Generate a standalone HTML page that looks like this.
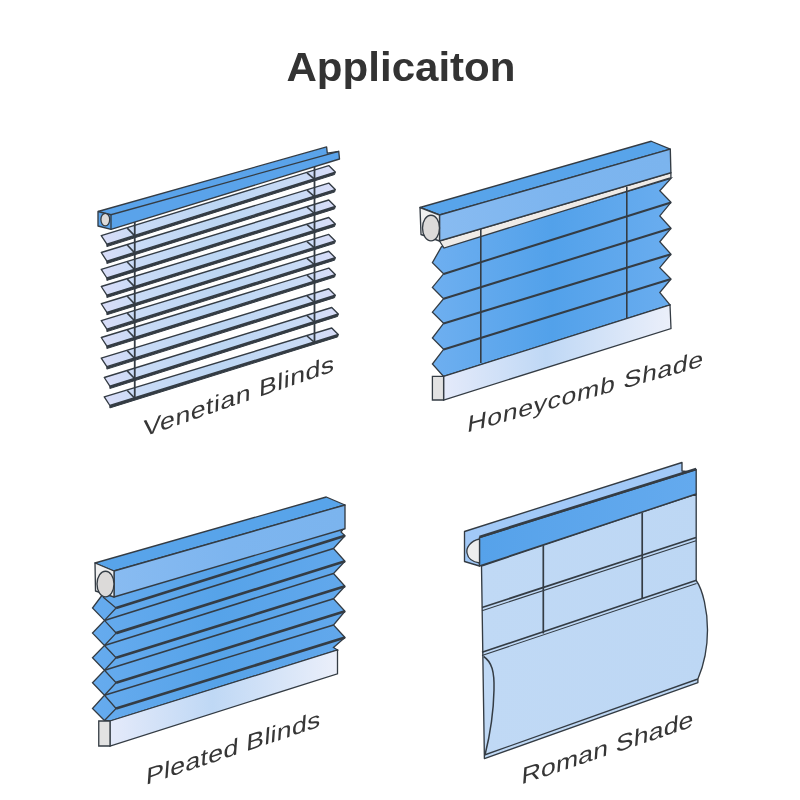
<!DOCTYPE html>
<html><head><meta charset="utf-8"><title>Applicaiton</title>
<style>html,body{margin:0;padding:0;background:#fff;}svg{display:block;}</style>
</head><body>
<svg width="800" height="800" viewBox="0 0 800 800">

<defs>
<filter id="gs" filterUnits="userSpaceOnUse" x="0" y="0" width="800" height="800"><feOffset dx="0" dy="0"/></filter>
<linearGradient id="slatg" x1="0" y1="0" x2="1" y2="0">
  <stop offset="0" stop-color="#d9ddf8"/><stop offset="0.15" stop-color="#c9dbf6"/>
  <stop offset="0.5" stop-color="#bcd6f3"/><stop offset="0.85" stop-color="#c9dbf6"/><stop offset="1" stop-color="#d9ddf8"/>
</linearGradient>
<linearGradient id="honeyg" x1="0" y1="0" x2="1" y2="0">
  <stop offset="0" stop-color="#6eaff0"/><stop offset="0.5" stop-color="#52a1ea"/><stop offset="1" stop-color="#6aadef"/>
</linearGradient>
<linearGradient id="pleatg" x1="0" y1="0" x2="1" y2="0">
  <stop offset="0" stop-color="#66abee"/><stop offset="0.5" stop-color="#56a3e9"/><stop offset="1" stop-color="#62a8ec"/>
</linearGradient>
<linearGradient id="hrfront" x1="0" y1="0" x2="1" y2="0">
  <stop offset="0" stop-color="#88bbf1"/><stop offset="0.5" stop-color="#7db5ef"/><stop offset="1" stop-color="#7bb4ee"/>
</linearGradient>
<linearGradient id="railg" x1="0" y1="0" x2="1" y2="0">
  <stop offset="0" stop-color="#e4eafa"/><stop offset="0.45" stop-color="#bfd8f5"/><stop offset="1" stop-color="#ebeffa"/>
</linearGradient>
<linearGradient id="romang" x1="0" y1="0" x2="1" y2="0">
  <stop offset="0" stop-color="#c0d9f5"/><stop offset="1" stop-color="#bdd7f4"/>
</linearGradient>
<linearGradient id="romanbar" x1="0" y1="0" x2="1" y2="0">
  <stop offset="0" stop-color="#56a2ea"/><stop offset="1" stop-color="#64aaee"/>
</linearGradient>
</defs>
<rect width="800" height="800" fill="#fff"/>
<g filter="url(#gs)">
<text x="286.5" y="81" font-family="Liberation Sans, sans-serif" font-weight="bold" font-size="40" fill="#333" textLength="229" lengthAdjust="spacingAndGlyphs">Applicaiton</text>
<g><polygon points="106.85,244.20 335.25,172.10 334.65,174.50 106.85,246.60" fill="#343c44" stroke="#343c44" stroke-width="1" stroke-linejoin="round"/>
<polygon points="101.25,235.60 328.75,165.60 335.25,172.10 106.85,244.20" fill="url(#slatg)" stroke="#343c44" stroke-width="1.35" stroke-linejoin="round"/>
<polygon points="106.85,261.10 335.25,189.60 334.65,192.00 106.85,263.50" fill="#343c44" stroke="#343c44" stroke-width="1" stroke-linejoin="round"/>
<polygon points="101.25,252.50 328.75,183.10 335.25,189.60 106.85,261.10" fill="url(#slatg)" stroke="#343c44" stroke-width="1.35" stroke-linejoin="round"/>
<polygon points="106.85,278.00 335.25,206.50 334.65,208.90 106.85,280.40" fill="#343c44" stroke="#343c44" stroke-width="1" stroke-linejoin="round"/>
<polygon points="101.25,269.40 328.75,200.00 335.25,206.50 106.85,278.00" fill="url(#slatg)" stroke="#343c44" stroke-width="1.35" stroke-linejoin="round"/>
<polygon points="106.85,295.10 335.25,224.00 334.65,226.40 106.85,297.50" fill="#343c44" stroke="#343c44" stroke-width="1" stroke-linejoin="round"/>
<polygon points="101.25,286.50 328.75,217.50 335.25,224.00 106.85,295.10" fill="url(#slatg)" stroke="#343c44" stroke-width="1.35" stroke-linejoin="round"/>
<polygon points="106.85,312.35 335.25,240.90 334.65,243.30 106.85,314.75" fill="#343c44" stroke="#343c44" stroke-width="1" stroke-linejoin="round"/>
<polygon points="101.25,303.75 328.75,234.40 335.25,240.90 106.85,312.35" fill="url(#slatg)" stroke="#343c44" stroke-width="1.35" stroke-linejoin="round"/>
<polygon points="106.85,329.20 335.25,257.75 334.65,260.15 106.85,331.60" fill="#343c44" stroke="#343c44" stroke-width="1" stroke-linejoin="round"/>
<polygon points="101.25,320.60 328.75,251.25 335.25,257.75 106.85,329.20" fill="url(#slatg)" stroke="#343c44" stroke-width="1.35" stroke-linejoin="round"/>
<polygon points="106.85,346.10 335.25,274.60 334.65,277.00 106.85,348.50" fill="#343c44" stroke="#343c44" stroke-width="1" stroke-linejoin="round"/>
<polygon points="101.25,337.50 328.75,268.10 335.25,274.60 106.85,346.10" fill="url(#slatg)" stroke="#343c44" stroke-width="1.35" stroke-linejoin="round"/>
<polygon points="106.85,366.70 335.25,295.25 334.65,297.65 106.85,369.10" fill="#343c44" stroke="#343c44" stroke-width="1" stroke-linejoin="round"/>
<polygon points="101.25,358.10 328.75,288.75 335.25,295.25 106.85,366.70" fill="url(#slatg)" stroke="#343c44" stroke-width="1.35" stroke-linejoin="round"/>
<polygon points="109.85,386.10 338.25,314.00 337.65,316.40 109.85,388.50" fill="#343c44" stroke="#343c44" stroke-width="1" stroke-linejoin="round"/>
<polygon points="104.25,377.50 331.75,307.50 338.25,314.00 109.85,386.10" fill="url(#slatg)" stroke="#343c44" stroke-width="1.35" stroke-linejoin="round"/>
<polygon points="109.85,405.50 338.25,334.50 337.65,336.90 109.85,407.90" fill="#343c44" stroke="#343c44" stroke-width="1" stroke-linejoin="round"/>
<polygon points="104.25,396.90 331.75,328.00 338.25,334.50 109.85,405.50" fill="url(#slatg)" stroke="#343c44" stroke-width="1.35" stroke-linejoin="round"/>
<line x1="134.75" y1="222.0" x2="134.75" y2="398.76" stroke="#343c44" stroke-width="1.8"/>
<line x1="127.25" y1="228.10" x2="134.75" y2="235.89" stroke="#343c44" stroke-width="1.6"/>
<line x1="127.25" y1="245.07" x2="134.75" y2="252.87" stroke="#343c44" stroke-width="1.6"/>
<line x1="127.25" y1="261.97" x2="134.75" y2="269.77" stroke="#343c44" stroke-width="1.6"/>
<line x1="127.25" y1="279.11" x2="134.75" y2="286.91" stroke="#343c44" stroke-width="1.6"/>
<line x1="127.25" y1="296.32" x2="134.75" y2="304.12" stroke="#343c44" stroke-width="1.6"/>
<line x1="127.25" y1="313.17" x2="134.75" y2="320.97" stroke="#343c44" stroke-width="1.6"/>
<line x1="127.25" y1="330.07" x2="134.75" y2="337.87" stroke="#343c44" stroke-width="1.6"/>
<line x1="127.25" y1="350.67" x2="134.75" y2="358.47" stroke="#343c44" stroke-width="1.6"/>
<line x1="127.25" y1="370.92" x2="134.75" y2="378.74" stroke="#343c44" stroke-width="1.6"/>
<line x1="127.25" y1="390.43" x2="134.75" y2="398.26" stroke="#343c44" stroke-width="1.6"/>
<line x1="314.5" y1="166.0" x2="314.5" y2="342.88" stroke="#343c44" stroke-width="1.8"/>
<line x1="307.0" y1="172.79" x2="314.5" y2="179.15" stroke="#343c44" stroke-width="1.6"/>
<line x1="307.0" y1="190.23" x2="314.5" y2="196.60" stroke="#343c44" stroke-width="1.6"/>
<line x1="307.0" y1="207.13" x2="314.5" y2="213.50" stroke="#343c44" stroke-width="1.6"/>
<line x1="307.0" y1="224.60" x2="314.5" y2="230.96" stroke="#343c44" stroke-width="1.6"/>
<line x1="307.0" y1="241.53" x2="314.5" y2="247.89" stroke="#343c44" stroke-width="1.6"/>
<line x1="307.0" y1="258.38" x2="314.5" y2="264.74" stroke="#343c44" stroke-width="1.6"/>
<line x1="307.0" y1="275.23" x2="314.5" y2="281.60" stroke="#343c44" stroke-width="1.6"/>
<line x1="307.0" y1="295.88" x2="314.5" y2="302.24" stroke="#343c44" stroke-width="1.6"/>
<line x1="307.0" y1="315.62" x2="314.5" y2="322.00" stroke="#343c44" stroke-width="1.6"/>
<line x1="307.0" y1="336.00" x2="314.5" y2="342.38" stroke="#343c44" stroke-width="1.6"/>
<polygon points="98.00,211.50 326.60,146.90 327.30,153.20 338.75,151.30 339.50,159.00 111.00,229.40 98.00,226.00" fill="#5aa3ea" stroke="#343c44" stroke-width="1.35" stroke-linejoin="round"/>
<polyline points="98.00,211.50 111.00,214.75 338.75,151.30" fill="none" stroke="#343c44" stroke-width="1.35"/>
<line x1="111" y1="214.75" x2="111" y2="229.4" stroke="#343c44" stroke-width="1.35"/>
<ellipse cx="105.3" cy="219.6" rx="4.4" ry="6.3" fill="#dcdad8" stroke="#343c44" stroke-width="1.3"/></g>
<g><polygon points="441.40,246.90 432.40,262.60 443.60,273.90 432.40,287.40 443.60,298.70 432.40,312.20 443.60,323.40 432.40,338.00 443.60,349.40 432.40,364.00 443.60,376.40 670.00,304.90 659.80,292.50 671.00,279.00 659.80,267.70 671.00,254.20 659.80,241.80 671.00,228.30 659.80,215.90 671.00,202.40 659.80,190.75 671.00,178.40" fill="url(#honeyg)" stroke="#343c44" stroke-width="1.3"/>
<line x1="443.6" y1="273.9" x2="671.0" y2="202.4" stroke="#343c44" stroke-width="2.1"/>
<line x1="443.6" y1="298.7" x2="671.0" y2="228.3" stroke="#343c44" stroke-width="2.1"/>
<line x1="443.6" y1="323.4" x2="671.0" y2="254.2" stroke="#343c44" stroke-width="2.1"/>
<line x1="443.6" y1="349.4" x2="671.0" y2="279.0" stroke="#343c44" stroke-width="2.1"/>
<polygon points="443.60,376.40 670.00,304.90 671.00,328.50 443.60,400.00" fill="url(#railg)" stroke="#343c44" stroke-width="1.3"/>
<polygon points="432.40,376.40 443.60,376.40 443.60,400.00 432.40,400.00" fill="#e2e2e2" stroke="#343c44" stroke-width="1.3"/>
<polygon points="439.50,241.00 670.90,172.75 670.90,177.80 668.60,178.40 444.00,248.00" fill="#efebe7" stroke="#343c44" stroke-width="1.3"/>
<line x1="480.8" y1="229.0" x2="480.8" y2="363.0" stroke="#343c44" stroke-width="1.6"/>
<line x1="626.8" y1="187.0" x2="626.8" y2="318.0" stroke="#343c44" stroke-width="1.6"/>
<polygon points="420.00,207.50 651.20,141.25 670.30,149.10 439.50,215.00" fill="#58a4ea" stroke="#343c44" stroke-width="1.35" stroke-linejoin="round"/>
<polygon points="439.50,215.00 670.30,149.10 670.90,172.75 439.50,241.00" fill="url(#hrfront)" stroke="#343c44" stroke-width="1.35" stroke-linejoin="round"/>
<polygon points="420.00,207.50 439.50,215.00 439.50,241.00 421.00,234.50" fill="#f0f0f0" stroke="#343c44" stroke-width="1.35" stroke-linejoin="round"/>
<ellipse cx="431" cy="228" rx="8.5" ry="12.8" fill="#dcdad9" stroke="#343c44" stroke-width="1.35"/></g>
<g><polygon points="103.00,594.00 92.50,608.00 104.50,620.40 92.50,633.10 104.50,645.50 92.50,657.80 104.50,670.20 92.50,682.80 104.50,695.20 92.50,708.50 104.50,720.50 110.00,721.00 337.50,650.00 333.50,647.50 345.00,637.50 333.50,625.00 345.00,611.25 333.50,598.75 345.00,586.25 333.50,573.50 345.00,561.25 333.50,548.50 345.00,535.75 341.00,532.00 343.50,528.50" fill="url(#pleatg)" stroke="#343c44" stroke-width="1.3"/>
<polyline points="103.00,597.10 116.10,608.00 104.50,620.40" fill="none" stroke="#343c44" stroke-width="1.3"/>
<line x1="116.1" y1="608.0" x2="345.0" y2="535.75" stroke="#343c44" stroke-width="2.7"/>
<line x1="104.5" y1="620.40" x2="333.5" y2="548.5" stroke="#343c44" stroke-width="1.6"/>
<polyline points="104.50,620.40 116.10,633.10 104.50,645.50" fill="none" stroke="#343c44" stroke-width="1.3"/>
<line x1="116.1" y1="633.1" x2="345.0" y2="561.25" stroke="#343c44" stroke-width="2.7"/>
<line x1="104.5" y1="645.50" x2="333.5" y2="573.5" stroke="#343c44" stroke-width="1.6"/>
<polyline points="104.50,645.50 116.10,657.80 104.50,670.20" fill="none" stroke="#343c44" stroke-width="1.3"/>
<line x1="116.1" y1="657.8" x2="345.0" y2="586.25" stroke="#343c44" stroke-width="2.7"/>
<line x1="104.5" y1="670.20" x2="333.5" y2="598.75" stroke="#343c44" stroke-width="1.6"/>
<polyline points="104.50,670.20 116.10,682.80 104.50,695.20" fill="none" stroke="#343c44" stroke-width="1.3"/>
<line x1="116.1" y1="682.8" x2="345.0" y2="611.25" stroke="#343c44" stroke-width="2.7"/>
<line x1="104.5" y1="695.20" x2="333.5" y2="625.0" stroke="#343c44" stroke-width="1.6"/>
<polyline points="104.50,695.20 116.10,708.50 104.50,720.50" fill="none" stroke="#343c44" stroke-width="1.3"/>
<line x1="116.1" y1="708.5" x2="345.0" y2="637.5" stroke="#343c44" stroke-width="2.7"/>
<polygon points="110.00,721.00 337.50,650.00 337.50,673.75 110.00,746.00" fill="url(#railg)" stroke="#343c44" stroke-width="1.3"/>
<polygon points="98.75,721.00 110.00,721.00 110.00,746.00 98.75,746.00" fill="#e2e2e2" stroke="#343c44" stroke-width="1.3"/>
<polygon points="95.00,563.00 326.25,497.00 345.00,505.00 114.00,571.00" fill="#58a4ea" stroke="#343c44" stroke-width="1.35" stroke-linejoin="round"/>
<polygon points="114.00,571.00 345.00,505.00 345.00,528.75 114.00,597.00" fill="url(#hrfront)" stroke="#343c44" stroke-width="1.35" stroke-linejoin="round"/>
<polygon points="95.00,563.00 114.00,571.00 114.00,597.00 95.50,591.00" fill="#f0f0f0" stroke="#343c44" stroke-width="1.35" stroke-linejoin="round"/>
<ellipse cx="105.5" cy="584" rx="8.5" ry="12.8" fill="#dcdad9" stroke="#343c44" stroke-width="1.35"/></g>
<g><polygon points="464.50,531.50 682.00,462.50 682.00,471.00 690.00,472.00 479.50,545.00 479.50,566.00 464.50,561.50" fill="#a2c9f7" stroke="#343c44" stroke-width="1.35" stroke-linejoin="round"/>
<path d="M481.5,566 L696.2,494 L696.2,580.5 C703,590 707.5,611 707.5,630 C707.5,649 703,667 697.9,679 L697.9,682.6 L484.4,758.6 L483.5,700 Z" fill="url(#romang)" stroke="#343c44" stroke-width="1.35" stroke-linejoin="round"/>
<line x1="482" y1="607.5" x2="696" y2="537.5" stroke="#343c44" stroke-width="1.7"/><line x1="482" y1="610.7" x2="696" y2="540.7" stroke="#343c44" stroke-width="1.1"/>
<line x1="482" y1="652.25" x2="696.5" y2="580.3" stroke="#343c44" stroke-width="1.7"/><line x1="482" y1="655.45" x2="696.5" y2="583.5" stroke="#343c44" stroke-width="1.1"/>
<line x1="543.3" y1="545.5" x2="543.3" y2="633.5" stroke="#343c44" stroke-width="1.7"/>
<line x1="642.2" y1="513" x2="642.2" y2="599" stroke="#343c44" stroke-width="1.7"/>
<polyline points="484.40,755.00 697.90,679.00" fill="none" stroke="#343c44" stroke-width="1.35"/>
<path d="M483.6,656.5 C492,662 494.5,672 494,690 C493.5,715 490,735 485,755" fill="none" stroke="#343c44" stroke-width="1.5"/>
<polygon points="479.50,537.50 696.20,469.50 696.20,494.00 479.50,566.00" fill="url(#romanbar)" stroke="#343c44" stroke-width="1.35" stroke-linejoin="round"/>
<line x1="479.5" y1="536.9" x2="696.2" y2="468.9" stroke="#343c44" stroke-width="2.6"/>
<path d="M479.5,539 C470,541 466,548 467,553 C468,559 473,562 479.5,563 Z" fill="#eeeeee" stroke="#343c44" stroke-width="1.3"/></g>
<text x="0" y="0" transform="matrix(1.14,-0.3933,-0.035,1,143,437)" font-family="Liberation Sans, sans-serif" font-size="23.5" fill="#363636" textLength="167.54" lengthAdjust="spacing">Venetian Blinds</text>
<text x="0" y="0" transform="matrix(1.14,-0.3192,-0.12,1,466.5,432.5)" font-family="Liberation Sans, sans-serif" font-size="23.5" fill="#363636" textLength="207.02" lengthAdjust="spacing">Honeycomb Shade</text>
<text x="0" y="0" transform="matrix(1.14,-0.3819,-0.07,1,145.5,785)" font-family="Liberation Sans, sans-serif" font-size="23.5" fill="#363636" textLength="153.07" lengthAdjust="spacing">Pleated Blinds</text>
<text x="0" y="0" transform="matrix(1.14,-0.3842,-0.07,1,521,784.5)" font-family="Liberation Sans, sans-serif" font-size="23.5" fill="#363636" textLength="150.88" lengthAdjust="spacing">Roman Shade</text>
</g>
</svg>
</body></html>
